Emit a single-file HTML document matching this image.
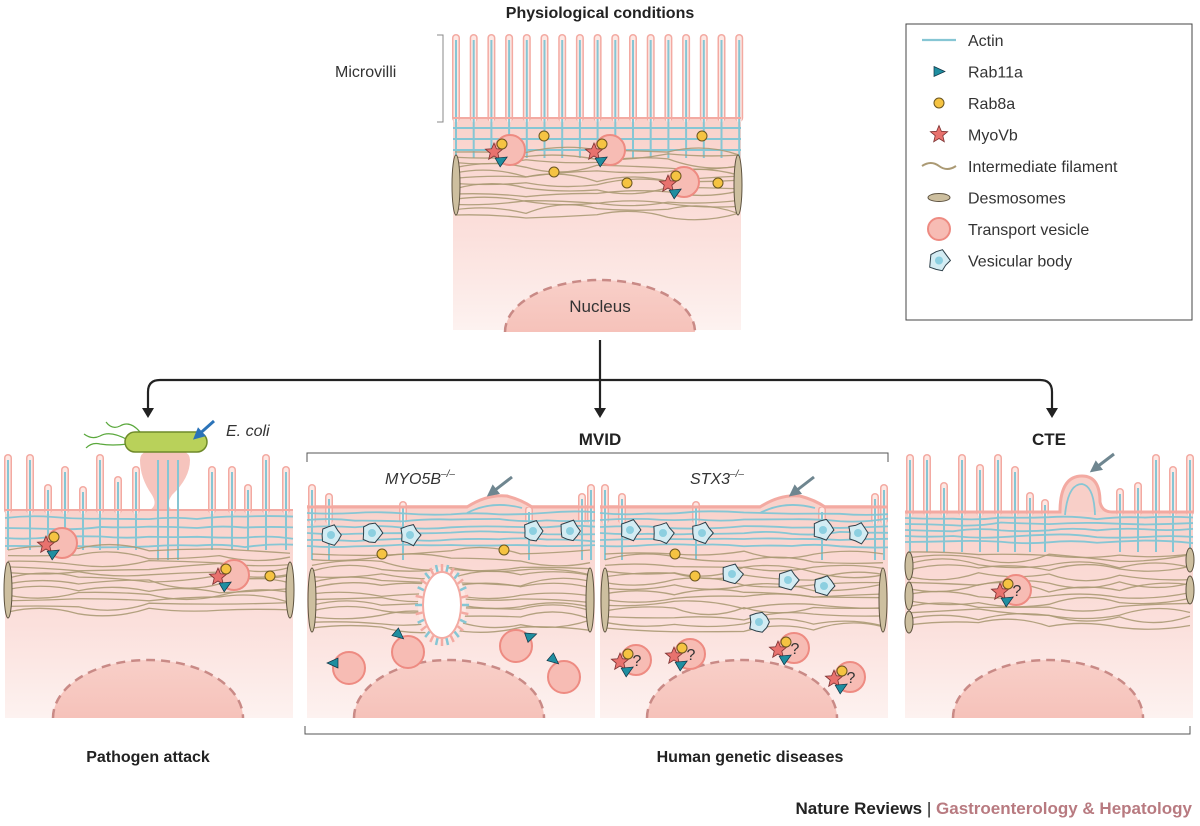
<!DOCTYPE html><html><head><meta charset="utf-8"><style>
body{margin:0;background:#fff;width:1200px;height:826px;overflow:hidden;font-family:"Liberation Sans",sans-serif}
svg{position:absolute;left:0;top:0}
</style></head><body>
<svg id="s" width="1200" height="826" viewBox="0 0 1200 826" xmlns="http://www.w3.org/2000/svg">
<defs>
<linearGradient id="g" x1="0" y1="0" x2="0" y2="1"><stop offset="0" stop-color="#f9d2cb"/><stop offset="0.55" stop-color="#fbe0dc"/><stop offset="1" stop-color="#fdf2f0"/></linearGradient>
<linearGradient id="nuc" x1="0" y1="0" x2="0" y2="1"><stop offset="0" stop-color="#f8cfc8"/><stop offset="1" stop-color="#f6c2ba"/></linearGradient>
</defs>
<g id="cells"></g>
<g font-family="Liberation Sans, sans-serif" fill="#222">
<text x="600" y="18" text-anchor="middle" font-weight="bold" font-size="16">Physiological conditions</text>
<text x="335" y="77" font-size="16" fill="#333">Microvilli</text>
<path d="M437 35 H443 V122 H437" fill="none" stroke="#888" stroke-width="1"/>
<text x="600" y="312" text-anchor="middle" font-size="17" fill="#333">Nucleus</text>
<text x="600" y="445" text-anchor="middle" font-weight="bold" font-size="17">MVID</text>
<text x="1049" y="445" text-anchor="middle" font-weight="bold" font-size="17">CTE</text>
<text x="226" y="436" font-style="italic" font-size="16" fill="#333">E. coli</text>
<text x="385" y="484" font-style="italic" font-size="16" fill="#333">MYO5B<tspan font-size="10" dy="-7">–/–</tspan></text>
<text x="690" y="484" font-style="italic" font-size="16" fill="#333">STX3<tspan font-size="10" dy="-7">–/–</tspan></text>
<text x="148" y="762" text-anchor="middle" font-weight="bold" font-size="16">Pathogen attack</text>
<text x="750" y="762" text-anchor="middle" font-weight="bold" font-size="16">Human genetic diseases</text>
<text x="1192" y="814" text-anchor="end" font-size="17" font-weight="bold"><tspan fill="#222">Nature Reviews</tspan><tspan fill="#222" font-weight="normal"> | </tspan><tspan fill="#b87a80">Gastroenterology &amp; Hepatology</tspan></text>
</g>
<path d="M307 462 V453 H888 V462" fill="none" stroke="#555" stroke-width="1"/>
<path d="M305 726 V734 H1190 V726" fill="none" stroke="#555" stroke-width="1"/>
<g stroke="#222" stroke-width="2.2" fill="none">
<path d="M600 340 V410"/>
<path d="M148 410 V392 Q148 380 160 380 H1040 Q1052 380 1052 392 V410"/>
</g>
<g fill="#222"><path d="M594 408 L600 418 L606 408Z"/><path d="M142 408 L148 418 L154 408Z"/><path d="M1046 408 L1052 418 L1058 408Z"/></g>
<g id="legend"></g>
</svg>
<script>
const G=document.getElementById('cells');let h='';
function rnd(s){return function(){s=(s*9301+49297)%233280;return s/233280;}}
const R=rnd(7);
const PINK='#f3aaa2',BLUE='#86c6d4',TAN='#ab9a74';
function mv(x,top,base){h+=`<path d="M${x} ${base} V${top}" stroke="${PINK}" stroke-width="8" stroke-linecap="round"/><path d="M${x} ${base+2} V${top}" stroke="#fde8e4" stroke-width="5" stroke-linecap="round"/><path d="M${x} ${base+40} V${top+2}" stroke="${BLUE}" stroke-width="2"/>`;}
function body(x,w,base,bot){h+=`<rect x="${x}" y="${base}" width="${w}" height="${bot-base}" fill="url(#g)"/>`;}
function actin(x,w,ys,wavy){ys.forEach(y=>{if(wavy){let d=`M${x} ${y}`;for(let i=1;i<=6;i++)d+=` Q${x+w*(i-.5)/6} ${y+(R()-.5)*6} ${x+w*i/6} ${y+(R()-.5)*3}`;h+=`<path d="${d}" stroke="${BLUE}" stroke-width="1.8" fill="none"/>`;}else h+=`<line x1="${x}" y1="${y}" x2="${x+w}" y2="${y}" stroke="${BLUE}" stroke-width="2"/>`;});}
function fil(x,w,y0,y1,n){for(let i=0;i<n;i++){let y=y0+(y1-y0)*i/(n-1);let d=`M${x} ${y}`;for(let k=1;k<=4;k++)d+=` Q${x+w*(k-.5)/4} ${y+(R()-.5)*22} ${x+w*k/4} ${y+(R()-.5)*8}`;h+=`<path d="${d}" stroke="${TAN}" stroke-width="1.3" fill="none" opacity=".9"/>`;}}
function des(x,y,ry){h+=`<ellipse cx="${x}" cy="${y}" rx="4" ry="${ry}" fill="#cdbf9f" stroke="#5e5340" stroke-width="1"/>`;}
function nuc(cx,cy,rx,ry){h+=`<path d="M${cx-rx} ${cy} A${rx} ${ry} 0 0 1 ${cx+rx} ${cy}Z" fill="url(#nuc)"/><path d="M${cx-rx} ${cy} A${rx} ${ry} 0 0 1 ${cx+rx} ${cy}" fill="none" stroke="#c98a86" stroke-width="2.5" stroke-dasharray="9 6"/>`;}
function ves(x,y,r){h+=`<circle cx="${x}" cy="${y}" r="${r||15}" fill="#f7bcb4" stroke="#ee8b82" stroke-width="2"/>`;}
function dot(x,y){h+=`<circle cx="${x}" cy="${y}" r="5" fill="#f5c342" stroke="#6a5520" stroke-width="1"/>`;}
function tri(x,y,a){a=a||0;h+=`<path transform="translate(${x} ${y}) rotate(${a})" d="M-5 -5 L6 0 L-5 5Z" fill="#1f8ea0" stroke="#134" stroke-width=".7"/>`;}
function star(x,y){let p=[];for(let i=0;i<10;i++){let r=i%2?4:9,a=Math.PI*i/5-Math.PI/2;p.push((x+r*Math.cos(a)).toFixed(1)+','+(y+r*Math.sin(a)).toFixed(1));}h+=`<polygon points="${p.join(' ')}" fill="#e8726e" stroke="#7a3030" stroke-width=".8"/>`;}
function cplx(x,y,q){ves(x+12,y,15);star(x-4,y+2);dot(x+4,y-6);tri(x+4,y+10,-30);if(q)h+=`<text x="${x+13}" y="${y+6}" font-size="16" text-anchor="middle" fill="#333" font-family="Liberation Sans">?</text>`;}
function vb(x,y){let p=[];for(let i=0;i<10;i++){let r=(i%2?8:10)+R()*1.5,a=Math.PI*i/5;p.push((x+r*Math.cos(a)).toFixed(1)+','+(y+r*Math.sin(a)).toFixed(1));}h+=`<polygon points="${p.join(' ')}" fill="#d3ecf3" stroke="#2c3e48" stroke-width="1"/><circle cx="${x}" cy="${y}" r="4" fill="#8ccfe0"/>`;}
function arrow(x1,y1,x2,y2,c){h+=`<line x1="${x1}" y1="${y1}" x2="${x2}" y2="${y2}" stroke="${c}" stroke-width="3"/>`;let a=Math.atan2(y2-y1,x2-x1);h+=`<path transform="translate(${x2} ${y2}) rotate(${a*180/Math.PI})" d="M4 0 L-8 -6 L-8 6Z" fill="${c}"/>`;}

// top cell
body(453,288,118,330);
for(let i=0;i<17;i++){mv(456+i*17.7,38,118);}
h+=`<line x1="453" y1="118" x2="741" y2="118" stroke="${PINK}" stroke-width="2"/>`;
actin(453,288,[128,139,150]);
fil(455,284,152,215,13);
des(456,185,30);des(738,185,30);
nuc(600,332,95,52);
cplx(498,150);cplx(598,150);cplx(672,182);
dot(544,136);dot(554,172);dot(702,136);dot(627,183);dot(718,183);

// left panel pathogen
body(5,288,510,718);
const lt=[[8,458],[30,458],[48,488],[65,470],[83,490],[100,458],[118,480],[136,470],[212,470],[232,470],[248,488],[266,458],[286,470]];
lt.forEach(([x,t])=>mv(x,t,510));
h+=`<path d="M140 460 Q140 448 165 448 Q190 448 190 460 Q190 478 172 495 Q165 505 172 510 H150 Q158 505 152 495 Q140 478 140 460Z" fill="#f6c4bd"/>`;
h+=`<line x1="5" y1="510" x2="293" y2="510" stroke="${PINK}" stroke-width="2"/>`;
[158,168,178].forEach(x=>h+=`<line x1="${x}" y1="460" x2="${x}" y2="560" stroke="${BLUE}" stroke-width="2"/>`);
actin(5,288,[518,528,538,546],true);
fil(8,282,550,612,12);
des(8,590,28);des(290,590,28);
nuc(148,718,95,58);
cplx(50,543);cplx(222,575);dot(270,576);
// e coli
h+=`<path d="M128 440 Q110 430 100 436 Q92 440 84 434 M128 444 Q112 446 100 444 Q92 442 86 448 M140 432 Q130 420 120 426 Q112 430 106 422" stroke="#5aa83c" stroke-width="1.2" fill="none"/>`;
h+=`<rect x="125" y="432" width="82" height="20" rx="10" fill="#b9d15a" stroke="#6f8a2a" stroke-width="1.5"/>`;
arrow(214,421,196,437,'#2b73b8');

// MVID panels
function mvid(x0,vbs,dots){
 body(x0,288,505,718);
 const tp=[[x0+5,488],[x0+22,497],[x0+96,505],[x0+222,510],[x0+275,497],[x0+284,488]];
 tp.forEach(([x,t])=>mv(x,t,520));
 h+=`<path d="M${x0} 507 H${x0+160} Q${x0+180} 494 ${x0+200} 496 Q${x0+215} 500 ${x0+225} 507 H${x0+288}" stroke="${PINK}" stroke-width="3" fill="#f9d2cb"/>`;
 h+=`<path d="M${x0+160} 513 Q${x0+185} 500 ${x0+215} 508" stroke="${BLUE}" stroke-width="1.8" fill="none"/>`;
 actin(x0,288,[513,520,527,533,540,546],true);
 fil(x0+5,278,554,628,14);
 des(x0+5,600,32);des(x0+283,600,32);
 nuc(x0+142,718,95,58);
 vbs.forEach(p=>vb(...p));dots.forEach(p=>dot(...p));
}
mvid(307,[[331,535],[372,533],[410,535],[533,531],[570,531]],[[382,554],[504,550]]);
mvid(600,[[630,530],[663,533],[702,533],[823,530],[858,533],[732,574],[788,580],[824,586],[759,622]],[[675,554],[695,576]]);
// microvillus inclusion
let inc='';for(let i=0;i<28;i++){let a=2*Math.PI*i/28,cx=442,cy=605,rx=20,ry=34;let x1=cx+rx*Math.cos(a),y1=cy+ry*Math.sin(a),x2=cx+(rx+7)*Math.cos(a),y2=cy+(ry+7)*Math.sin(a);inc+=`<line x1="${x1}" y1="${y1}" x2="${x2}" y2="${y2}" stroke="${i%2?PINK:BLUE}" stroke-width="2.5"/>`;}
h+=`<ellipse cx="442" cy="605" rx="24" ry="38" fill="#fde8e4"/>`+inc+`<ellipse cx="442" cy="605" rx="19" ry="33" fill="#fff" stroke="${PINK}" stroke-width="2"/>`;
ves(349,668,16);tri(333,663,180);ves(408,652,16);tri(399,635,40);ves(516,646,16);tri(531,636,-20);ves(564,677,16);tri(554,660,40);
cplx(624,660,1);cplx(678,654,1);cplx(782,648,1);cplx(838,677,1);
arrow(512,477,490,494,'#6f8690');arrow(814,477,792,494,'#6f8690');

// CTE
body(905,288,512,718);
const ct=[[910,458],[927,458],[944,486],[962,458],[980,468],[998,458],[1015,470],[1030,496],[1045,503],[1120,492],[1138,486],[1156,458],[1173,470],[1190,458]];
ct.forEach(([x,t])=>mv(x,t,512));
h+=`<path d="M905 512 H1060 Q1060 476 1082 476 Q1100 476 1100 502 Q1102 512 1112 512 H1193" stroke="${PINK}" stroke-width="3" fill="#f8cfc8"/>`;
h+=`<path d="M1065 515 Q1068 484 1082 484 Q1094 486 1095 515" stroke="${BLUE}" stroke-width="1.8" fill="none"/>`;
actin(905,288,[518,524,530,536,542],true);
fil(908,282,552,625,13);
des(909,566,14);des(909,596,14);des(909,622,11);des(1190,560,12);des(1190,590,14);
nuc(1048,718,95,58);
cplx(1004,590,1);
arrow(1114,454,1093,470,'#6f8690');
G.innerHTML=h;

// legend
let L=`<rect x="906" y="24" width="286" height="296" fill="#fff" stroke="#444" stroke-width="1"/>`;
const items=['Actin','Rab11a','Rab8a','MyoVb','Intermediate filament','Desmosomes','Transport vesicle','Vesicular body'];
h='';
const ys=items.map((_,i)=>40+i*31.5);
h+=`<line x1="922" y1="${ys[0]}" x2="956" y2="${ys[0]}" stroke="${BLUE}" stroke-width="2.2"/>`;
tri(939,ys[1]);dot(939,ys[2]);star(939,ys[3]);
h+=`<path d="M922 ${ys[4]} Q931 ${ys[4]-6} 939 ${ys[4]} Q947 ${ys[4]+6} 956 ${ys[4]}" stroke="${TAN}" stroke-width="2" fill="none"/>`;
h+=`<ellipse cx="939" cy="${ys[5]}" rx="11" ry="4" fill="#cdbf9f" stroke="#5e5340"/>`;
ves(939,ys[6],11);vb(939,ys[7]);
items.forEach((t,i)=>h+=`<text x="968" y="${ys[i]+6}" font-size="16" fill="#333" font-family="Liberation Sans">${t}</text>`);
document.getElementById('legend').innerHTML=L+h;
</script>
</body></html>
